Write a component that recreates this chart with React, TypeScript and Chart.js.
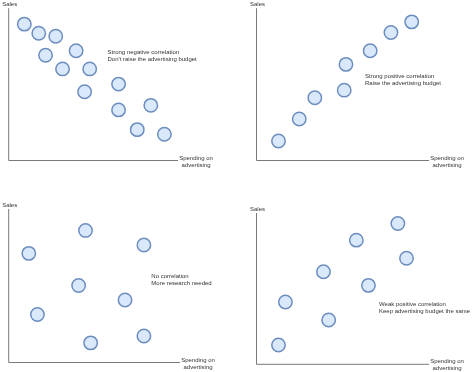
import React, { useEffect, useRef } from "react";
import { Chart, registerables } from "chart.js";

Chart.register(...registerables);

// Panel 1: strong negative correlation
const negX = [0.95, 1.8, 2.8, 2.2, 4.0, 3.2, 4.8, 4.5, 6.5, 6.5, 8.4, 7.6, 9.2];
const negY = [8.95, 8.35, 8.15, 6.9, 7.2, 6.0, 6.0, 4.5, 5.0, 3.3, 3.6, 2.0, 1.7];
// Panel 2: strong positive correlation
const posX = [1.3, 2.5, 3.4, 5.1, 5.2, 6.6, 7.8, 9.0];
const posY = [1.25, 2.7, 4.1, 4.6, 6.3, 7.2, 8.4, 9.1];
// Panel 3: no correlation
const noneX = [1.2, 4.5, 7.9, 4.1, 6.8, 1.7, 4.8, 7.9];
const noneY = [7.1, 8.6, 7.65, 5.0, 4.05, 3.1, 1.25, 1.7];
// Panel 4: weak positive correlation
const weakX = [8.2, 5.8, 8.7, 3.9, 6.5, 1.7, 4.2, 1.3];
const weakY = [9.3, 8.2, 7.0, 6.1, 5.2, 4.1, 2.9, 1.25];

const yAxisLabel = "Sales";
const xAxisLabel = ["Spending on", "advertising"];

const negNote = ["Strong negative correlation", "Don't raise the advertising budget"];
const posNote = ["Strong positive correlation", "Raise the advertising budget"];
const noneNote = ["No correlation", "More research needed"];
const weakNote = ["Weak positive correlation", "Keep advertising budget the same"];

type Panel = {
  xs: number[];
  ys: number[];
  note: string[];
  noteAt: { x: number; y: number };
  left: number;
  top: number;
  pad: { left: number; top: number; right: number; bottom: number };
};

const panels: Panel[] = [
  { xs: negX, ys: negY, note: negNote, noteAt: { x: 5.85, y: 7.1 }, left: 0, top: 0, pad: { left: 6, top: 8, right: 59, bottom: 26 } },
  { xs: posX, ys: posY, note: posNote, noteAt: { x: 6.3, y: 5.53 }, left: 237, top: 0, pad: { left: 19, top: 8, right: 45, bottom: 26 } },
  { xs: noneX, ys: noneY, note: noneNote, noteAt: { x: 8.33, y: 5.62 }, left: 0, top: 186, pad: { left: 6, top: 23, right: 57, bottom: 10 } },
  { xs: weakX, ys: weakY, note: weakNote, noteAt: { x: 7.11, y: 3.95 }, left: 237, top: 186, pad: { left: 19, top: 27, right: 45, bottom: 8 } },
];

const FONT = '6px "Liberation Sans", Arial, sans-serif';
const TEXT = "#333";

function makePlugin(p: Panel) {
  return {
    id: "axesAndNotes",
    beforeDatasetsDraw(chart: any) {
      const { ctx, chartArea, scales } = chart;
      const { left, right, top, bottom } = chartArea;
      ctx.save();
      ctx.strokeStyle = "#7a7a7a";
      ctx.lineWidth = 1;
      ctx.beginPath();
      ctx.moveTo(left + 0.5, top);
      ctx.lineTo(left + 0.5, bottom + 0.5);
      ctx.lineTo(right, bottom + 0.5);
      ctx.stroke();

      ctx.fillStyle = TEXT;
      ctx.font = FONT;
      ctx.textBaseline = "middle";
      ctx.textAlign = "left";
      ctx.fillText(yAxisLabel, left - 6, top - 4);

      ctx.textAlign = "center";
      ctx.fillText(xAxisLabel[0], right + 18, bottom - 2);
      ctx.fillText(xAxisLabel[1], right + 18, bottom + 5);

      ctx.textAlign = "left";
      const nx = scales.x.getPixelForValue(p.noteAt.x);
      const ny = scales.y.getPixelForValue(p.noteAt.y);
      p.note.forEach((line, i) => ctx.fillText(line, nx, ny + i * 7));
      ctx.restore();
    },
  };
}

function PanelChart({ p }: { p: Panel }) {
  const ref = useRef<HTMLCanvasElement | null>(null);
  useEffect(() => {
    if (!ref.current) return;
    const chart = new Chart(ref.current, {
      type: "scatter",
      data: {
        datasets: [
          {
            data: p.xs.map((x, i) => ({ x, y: p.ys[i] })),
            pointRadius: 6.7,
            pointHoverRadius: 6.7,
            pointBackgroundColor: "#dae8fc",
            pointBorderColor: "#6c8ebf",
            pointBorderWidth: 1.5,
            showLine: false,
            clip: false,
          } as any,
        ],
      },
      options: {
        animation: false,
        responsive: false,
        maintainAspectRatio: false,
        events: [],
        layout: { padding: p.pad },
        plugins: { legend: { display: false }, tooltip: { enabled: false }, title: { display: false } },
        scales: {
          x: { type: "linear", min: 0, max: 10, display: false },
          y: { type: "linear", min: 0, max: 10, display: false },
        },
      },
      plugins: [makePlugin(p)],
    });
    return () => chart.destroy();
  }, [p]);
  return (
    <canvas
      ref={ref}
      width={237}
      height={186}
      style={{ position: "absolute", left: p.left, top: p.top, width: 237, height: 186 }}
    />
  );
}

export default function App() {
  return (
    <div style={{ position: "absolute", left: 0, top: 0, width: 474, height: 372, background: "#fff" }}>
      {panels.map((p, i) => (
        <PanelChart key={i} p={p} />
      ))}
    </div>
  );
}
